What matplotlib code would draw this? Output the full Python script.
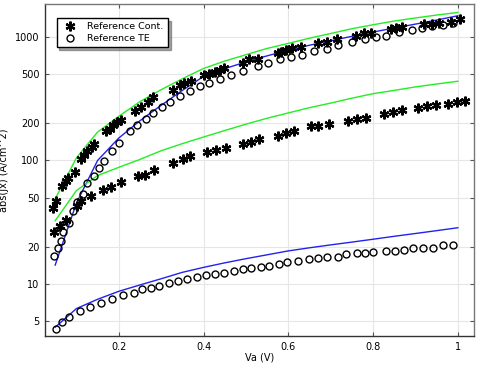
import matplotlib
matplotlib.use("Agg")
import matplotlib.pyplot as plt
import numpy as np

# ---- data ----
line_x = [0.05, 0.10, 0.15, 0.20, 0.25, 0.30, 0.35, 0.40, 0.45, 0.50,
          0.55, 0.60, 0.65, 0.70, 0.75, 0.80, 0.85, 0.90, 0.95, 1.00]
green_upper = [48.8, 105, 170, 228, 300, 375, 460, 557, 640, 720,
               810, 890, 980, 1070, 1170, 1260, 1350, 1430, 1510, 1585]
blue_upper = [14.2, 45, 100, 152, 210, 280, 370, 480, 555, 630,
              705, 785, 860, 935, 1015, 1100, 1185, 1275, 1375, 1490]
green_middle = [32.5, 57, 75.5, 88, 102, 120, 137, 155, 175, 197,
                220, 243, 268, 292, 320, 348, 370, 395, 417, 439]
blue_lower = [4.45, 6.3, 7.5, 8.7, 9.8, 11.0, 12.4, 13.6, 14.8, 16.0,
              17.2, 18.5, 19.6, 20.7, 21.8, 23.0, 24.3, 25.6, 27.0, 28.5]

cont_upper_x = [0.045, 0.053, 0.067, 0.075, 0.081, 0.096, 0.111, 0.118, 0.126, 0.136,
                0.141, 0.171, 0.179, 0.187, 0.195, 0.206, 0.238, 0.253, 0.269, 0.281,
                0.328, 0.344, 0.355, 0.371, 0.402, 0.414, 0.426, 0.438, 0.449, 0.492,
                0.508, 0.528, 0.575, 0.583, 0.595, 0.609, 0.630, 0.669, 0.692, 0.716,
                0.759, 0.779, 0.795, 0.842, 0.853, 0.869, 0.920, 0.940, 0.955, 0.983, 1.004]
cont_upper_y = [40.9, 47.3, 62.6, 68.8, 71.8, 81.4, 102, 110, 119, 128,
                137, 172, 181, 193, 205, 214, 252, 271, 298, 327,
                376, 412, 425, 439, 491, 507, 522, 546, 557, 618,
                659, 671, 737, 759, 784, 809, 834, 889, 916, 963,
                1019, 1072, 1072, 1155, 1177, 1199, 1276, 1276, 1307, 1331, 1400]

cont_lower_x = [0.048, 0.061, 0.075, 0.102, 0.112, 0.135, 0.163, 0.182, 0.206, 0.245,
                0.261, 0.282, 0.328, 0.351, 0.369, 0.408, 0.430, 0.452, 0.492, 0.512,
                0.532, 0.575, 0.595, 0.614, 0.653, 0.671, 0.696, 0.740, 0.761, 0.784,
                0.826, 0.847, 0.869, 0.906, 0.928, 0.948, 0.976, 0.997, 1.018]
cont_lower_y = [26.1, 29.2, 33.0, 43.1, 46.7, 51.4, 57.4, 61.1, 66.6, 74.5,
                76.9, 84.1, 95.1, 102, 108, 117, 122, 126, 137, 141,
                148, 158, 168, 172, 189, 191, 199, 209, 218, 222,
                237, 247, 255, 266, 275, 284, 289, 298, 303]

te_upper_x = [0.048, 0.056, 0.064, 0.069, 0.082, 0.092, 0.102, 0.115, 0.125, 0.142,
              0.153, 0.165, 0.183, 0.200, 0.226, 0.243, 0.264, 0.281, 0.303, 0.322,
              0.344, 0.367, 0.391, 0.414, 0.438, 0.465, 0.492, 0.528, 0.553, 0.580,
              0.606, 0.632, 0.661, 0.691, 0.718, 0.750, 0.780, 0.806, 0.831, 0.861,
              0.891, 0.915, 0.938, 0.965, 0.989]
te_upper_y = [16.7, 19.4, 22.4, 26.1, 30.9, 38.7, 45.8, 53.6, 65.9, 75.5,
              86.5, 98.2, 119, 139, 173, 193, 218, 244, 271, 296,
              331, 366, 402, 428, 456, 497, 529, 581, 618, 659,
              692, 723, 770, 799, 861, 916, 958, 1006, 1019, 1092,
              1140, 1190, 1229, 1252, 1292]

te_lower_x = [0.052, 0.065, 0.082, 0.108, 0.132, 0.158, 0.184, 0.209, 0.235, 0.255,
              0.275, 0.296, 0.318, 0.340, 0.362, 0.384, 0.405, 0.428, 0.449, 0.471,
              0.492, 0.513, 0.536, 0.555, 0.577, 0.598, 0.624, 0.648, 0.671, 0.692,
              0.718, 0.736, 0.762, 0.781, 0.800, 0.830, 0.852, 0.873, 0.894, 0.918,
              0.941, 0.964, 0.988]
te_lower_y = [4.33, 4.91, 5.39, 6.03, 6.54, 7.05, 7.51, 8.18, 8.50, 9.10,
              9.23, 9.63, 10.1, 10.6, 11.0, 11.3, 11.8, 12.0, 12.3, 12.8,
              13.1, 13.5, 13.7, 13.9, 14.6, 15.0, 15.3, 16.0, 16.3, 16.6,
              16.6, 17.4, 17.9, 17.9, 18.2, 18.5, 18.5, 18.9, 19.4, 19.7,
              19.7, 20.6, 20.6]

x_ticks = [0.2, 0.4, 0.6, 0.8, 1.0]
x_tick_labels = ["0.2", "0.4", "0.6", "0.8", "1"]
y_ticks = [5, 10, 20, 50, 100, 200, 500, 1000]
y_tick_labels = ["5", "10", "20", "50", "100", "200", "500", "1000"]

# ---- figure ----
fig = plt.figure(figsize=(4.83, 3.66), dpi=100)
ax = fig.add_axes([0.0932, 0.082, 0.888, 0.907])
ax.set_yscale("log")

ax.plot(line_x, green_upper, color="#22ee22", lw=1.0, zorder=2)
ax.plot(line_x, blue_upper, color="#2222ee", lw=1.0, zorder=2)
ax.plot(line_x, green_middle, color="#22ee22", lw=1.0, zorder=2)
ax.plot(line_x, blue_lower, color="#2222ee", lw=1.0, zorder=2)

star = (6, 2, 0)
ax.plot(cont_upper_x, cont_upper_y, ls="none", marker=star, ms=7, mew=1.6,
        color="black", zorder=3, label="Reference Cont.")
ax.plot(cont_lower_x, cont_lower_y, ls="none", marker=star, ms=7, mew=1.6,
        color="black", zorder=3)
ax.plot(te_upper_x, te_upper_y, ls="none", marker="o", ms=5, mew=1.0,
        mfc="none", mec="black", zorder=3, label="Reference TE")
ax.plot(te_lower_x, te_lower_y, ls="none", marker="o", ms=5, mew=1.0,
        mfc="none", mec="black", zorder=3)

ax.set_xlim(0.026, 1.038)
ax.set_ylim(3.78, 1855)
ax.set_xticks(x_ticks)
ax.set_xticklabels(x_tick_labels)
ax.set_yticks(y_ticks)
ax.set_yticklabels(y_tick_labels)
ax.yaxis.set_minor_locator(matplotlib.ticker.NullLocator())
ax.tick_params(axis="both", which="both", direction="in", length=3, width=0.8,
               labelsize=7, top=True, right=True, color="#555555", pad=4)
ax.grid(True, color="#e6e6e6", lw=0.8, zorder=0)
ax.set_axisbelow(True)
for s in ["left", "bottom"]:
    ax.spines[s].set_color("#333333")
    ax.spines[s].set_linewidth(1.0)
for s in ["top", "right"]:
    ax.spines[s].set_color("#777777")
    ax.spines[s].set_linewidth(1.0)

ax.set_xlabel("Va (V)", fontsize=7, labelpad=1)
ax.set_ylabel("abs(Jx) (A/cm^2)", fontsize=7)
ax.yaxis.set_label_coords(-0.083, 0.5)

leg = ax.legend(loc="upper left", bbox_to_anchor=(0.016, 0.972), fontsize=6.8,
                frameon=True, fancybox=False, shadow=True, borderpad=0.45,
                handletextpad=0.8, labelspacing=0.3, edgecolor="black",
                framealpha=1.0)
leg.get_frame().set_linewidth(1.0)

fig.savefig("out.png", dpi=100)
